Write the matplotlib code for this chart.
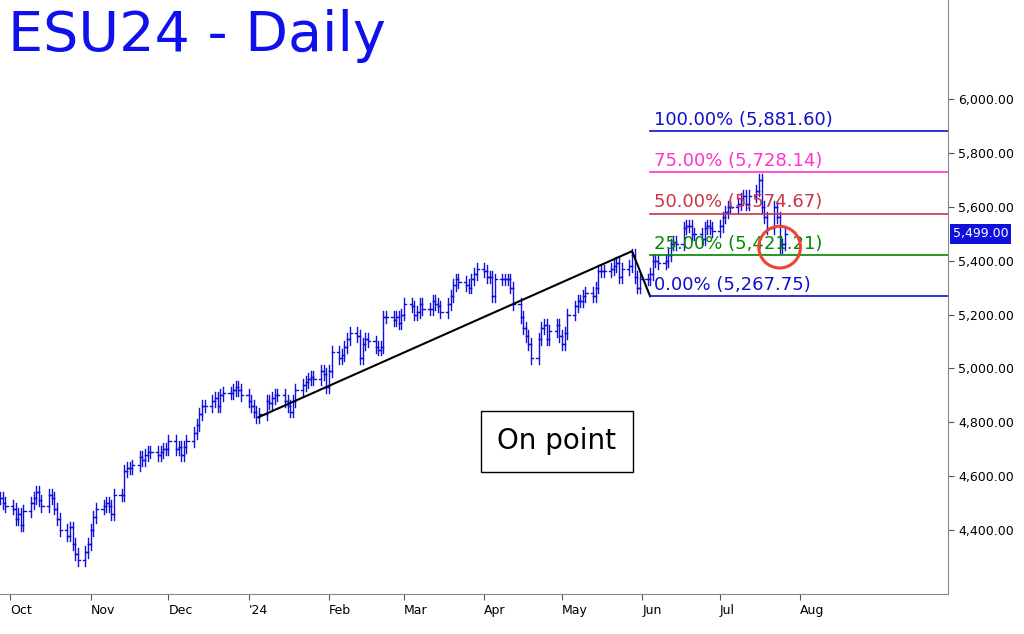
import numpy as np, pandas as pd
import matplotlib
matplotlib.use("Agg")
import matplotlib.pyplot as plt
import matplotlib.dates as mdates
import matplotlib.transforms as mtrans

closes = [4520,4500,4490,
 4480,4440,4460,4420,4470, 4500,4520,4540,4510,4490, 4530,4520,4480,4440,4400,
 4380,4410,4350,4310,4290, 4320,4350,4400,4450,4480, 4490,4500,4490,4460,4530,
 4530,4620,4630,4630,4640, 4670,4660,4680,4690,4690, 4680,4690,4700,4700,4730,
 4700,4710,4680,4710,4730, 4760,4790,4830,4860,4860, 4880,4890,4860,4900,4910,
 4910,4920,4930,4920,4900, 4880,4860,4840,4820,4830, 4880,4870,4890,4900,4900,
 4880,4860,4840,4880,4920, 4940,4950,4960,4970,4960, 4990,4980,4930,4990,5060,
 5040,5050,5080,5110,5130, 5120,5040,5090,5110,5100, 5080,5070,5080,5190,5190,
 5180,5190,5170,5200,5240, 5230,5200,5210,5240,5220, 5220,5250,5240,5230,5210,
 5240,5270,5310,5330,5320, 5310,5300,5330,5350,5370, 5360,5340,5340,5270,5330,
 5330,5330,5330,5300,5240, 5190,5150,5120,5090,5040, 5110,5150,5160,5110,5140,
 5160,5120,5090,5130,5200, 5230,5250,5250,5270,5280, 5270,5300,5360,5360,5360,
 5370,5380,5390,5340,5370, 5380,5420,5340,5300,5330, 5330,5350,5400,5400,5390,
 5400,5420,5460,5470,5460, 5520,5530,5530,5500,5500, 5480,5520,5530,5520,5510,
 5530,5560,5580,5600,5600, 5610,5630,5640,5610,5640, 5660,5700,5600,5560,5520,
 5600,5560,5450,5460,5499]
dates = pd.bdate_range("2023-09-27", periods=len(closes))
fib_pct = ["100.00%","75.00%","50.00%","25.00%","0.00%"]
fib_val = [5881.60,5728.14,5574.67,5421.21,5267.75]
fib_col = ["#1010cc","#ff33cc","#cc3344","#008800","#1010cc"]
trend_dates = ["2024-01-05","2024-05-28","2024-06-04"]
trend_vals = [4820,5435,5267.75]
months = pd.date_range("2023-10-01","2024-08-01",freq="MS")
month_labels = ["Oct","Nov","Dec","'24","Feb","Mar","Apr","May","Jun","Jul","Aug"]
yticks = np.arange(4400,6001,200)

fig = plt.figure(figsize=(10.24,6.34), dpi=100)
ax = fig.add_axes([0, 1-594/634, 948/1024, 594/634])
blue = "#1010dd"
x = mdates.date2num(dates)
opens = [closes[0]] + closes[:-1]
for xi,o,c in zip(x,opens,closes):
    hi = max(o,c)+22; lo = min(o,c)-22
    ax.plot([xi,xi],[lo,hi],color=blue,lw=1)
    ax.plot([xi-0.9,xi],[o,o],color=blue,lw=1)
    ax.plot([xi,xi+0.9],[c,c],color=blue,lw=1)
ax.plot(pd.to_datetime(trend_dates), trend_vals, color="black", lw=1.5)
x0 = mdates.date2num(pd.Timestamp("2024-06-04"))
for p,v,col in zip(fib_pct,fib_val,fib_col):
    ax.plot([x0, mdates.date2num(pd.Timestamp("2024-09-27"))],[v,v],color=col,lw=1.2)
    ax.text(x0+1.5, v+8, f"{p} ({v:,.2f})", color=col, fontsize=13, va="bottom")
ax.scatter([mdates.date2num(pd.Timestamp("2024-07-24"))],[5450], s=900, marker="o",
           facecolors="none", edgecolors="#ee4433", linewidths=2.2, zorder=5)
ax.text(mdates.date2num(pd.Timestamp("2024-04-29")), 4730, "On point", fontsize=20,
        ha="center", va="center", bbox=dict(boxstyle="square,pad=0.6", fc="white", ec="black"))
ax.set_xlim(mdates.date2num(pd.Timestamp("2023-09-27")), mdates.date2num(pd.Timestamp("2024-09-27")))
ax.set_ylim(4163, 6367)
ax.yaxis.tick_right()
ax.set_yticks(yticks)
ax.set_yticklabels([f"{v:,.2f}" for v in yticks], fontsize=9)
ax.set_xticks(months)
ax.set_xticklabels(month_labels, fontsize=9, ha="left")
off = mtrans.ScaledTranslation(2/72, 0, fig.dpi_scale_trans)
for l in ax.get_xticklabels(): l.set_transform(l.get_transform()+off)
ax.tick_params(length=4, color="#555555")
for s in ["top","left"]: ax.spines[s].set_visible(False)
ax.spines["right"].set_color("#888888"); ax.spines["bottom"].set_color("#888888")
ax.text(0.008, 0.985, "ESU24 - Daily", transform=ax.transAxes, color="#1010ee",
        fontsize=40, va="top", ha="left")
ax.text(1.005, (5499-4163)/(6367-4163), "5,499.00", transform=ax.transAxes, color="white",
        fontsize=9, va="center", ha="left", bbox=dict(boxstyle="square,pad=0.25", fc="#1010dd", ec="none"))
fig.savefig("out.png", dpi=100)
